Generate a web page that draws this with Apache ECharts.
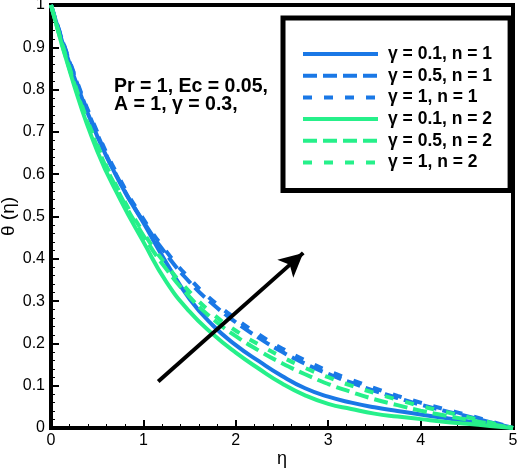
<!DOCTYPE html>
<html>
<head>
<meta charset="utf-8">
<script src="https://cdn.jsdelivr.net/npm/echarts@6/dist/echarts.min.js"></script>
<style>html,body{margin:0;padding:0;background:#fff}#c{width:520px;height:469px}</style>
</head>
<body>
<div id="c"></div>
<script>
var eta = [0,0.25,0.5,0.75,1,1.25,1.5,1.75,2,2.25,2.5,2.75,3,3.25,3.5,3.75,4,4.25,4.5,4.75,5];
var g01n1 = [1,0.83,0.69,0.578,0.485,0.39,0.305,0.243,0.196,0.158,0.123,0.094,0.074,0.060,0.049,0.040,0.032,0.024,0.016,0.008,0];
var g05n1 = [1,0.835,0.695,0.58,0.488,0.41,0.345,0.293,0.25,0.213,0.18,0.152,0.128,0.107,0.088,0.071,0.055,0.041,0.028,0.014,0];
var g1n1  = [1,0.838,0.70,0.586,0.494,0.417,0.353,0.301,0.258,0.221,0.188,0.16,0.135,0.114,0.094,0.076,0.06,0.045,0.031,0.016,0];
var g01n2 = [1,0.81,0.655,0.54,0.44,0.345,0.275,0.222,0.178,0.14,0.105,0.077,0.057,0.045,0.034,0.027,0.021,0.015,0.010,0.005,0];
var g05n2 = [1,0.815,0.665,0.55,0.455,0.375,0.31,0.258,0.217,0.183,0.153,0.127,0.104,0.085,0.068,0.054,0.041,0.030,0.020,0.010,0];
var g1n2  = [1,0.818,0.67,0.555,0.462,0.385,0.322,0.27,0.23,0.197,0.168,0.142,0.12,0.1,0.083,0.067,0.052,0.039,0.026,0.013,0];
var names = ['\u03b3 = 0.1, n = 1','\u03b3 = 0.5, n = 1','\u03b3 = 1, n = 1','\u03b3 = 0.1, n = 2','\u03b3 = 0.5, n = 2','\u03b3 = 1, n = 2'];
var arrowTail = [1.16, 0.11];
var arrowHead = [2.73, 0.414];

var BLUE = '#1a78e6', GREEN = '#26f08a';
var FONT = 'Liberation Sans, Arial, Helvetica, sans-serif';
function pairs(ys){ return eta.map(function(x,i){ return [x, ys[i]]; }); }
function mk(name, ys, color, type){
  return {name:name, type:'line', data:pairs(ys), smooth:true, symbol:'none', showSymbol:false,
    lineStyle:{color:color, width:4, type:type}, itemStyle:{color:color}, emphasis:{disabled:true}, z:2};
}
var series = [
  mk(names[0], g01n1, BLUE, 'solid'),
  mk(names[1], g05n1, BLUE, [14,6]),
  mk(names[2], g1n1, BLUE, [9,12]),
  mk(names[3], g01n2, GREEN, 'solid'),
  mk(names[4], g05n2, GREEN, [14,6]),
  mk(names[5], g1n2, GREEN, [9,12]),
  {type:'line', data:[], silent:true, z:5,
   markLine:{silent:true, symbol:['none','arrow'], symbolSize:[18,24], animation:false,
     label:{show:false}, emphasis:{disabled:true},
     lineStyle:{color:'#000', width:4, type:'solid'},
     data:[[{coord:arrowTail},{coord:arrowHead}]]}}
];
var chart = echarts.init(document.getElementById('c'), null, {renderer:'canvas'});
chart.setOption({
  animation:false,
  backgroundColor:'#fff',
  grid:{left:51, right:7, top:5, bottom:41, show:true, borderColor:'#000', borderWidth:4, containLabel:false, outerBoundsMode:'none'},
  xAxis:{type:'value', min:0, max:5, interval:1, name:'\u03b7', nameLocation:'middle', nameGap:22, nameMoveOverlap:false,
    nameTextStyle:{fontFamily:FONT, fontSize:18, color:'#000'},
    axisLine:{show:true, lineStyle:{color:'#000', width:4}},
    axisTick:{show:true, inside:true, length:8, lineStyle:{color:'#000', width:2}},
    minorTick:{show:true, splitNumber:5, length:4, lineStyle:{color:'#000', width:1}},
    splitLine:{show:false},
    axisLabel:{fontFamily:FONT, fontSize:16, color:'#000', margin:5}},
  yAxis:{type:'value', min:0, max:1, interval:0.1, name:'\u03b8 (\u03b7)', nameLocation:'middle', nameGap:33, nameRotate:90, nameMoveOverlap:false,
    nameTextStyle:{fontFamily:FONT, fontSize:19, color:'#000'},
    axisLine:{show:true, lineStyle:{color:'#000', width:4}},
    axisTick:{show:true, inside:true, length:8, lineStyle:{color:'#000', width:2}},
    minorTick:{show:true, splitNumber:5, length:4, lineStyle:{color:'#000', width:1}},
    splitLine:{show:false},
    axisLabel:{fontFamily:FONT, fontSize:16, color:'#000', margin:6}},
  legend:{data:names, orient:'vertical', left:283, top:18, itemWidth:75, itemHeight:16, itemGap:3.7,
    padding:[27,18,19,18], borderColor:'#000', borderWidth:5, backgroundColor:'#fff', selectedMode:false,
    itemStyle:{opacity:0}, lineStyle:{width:4},
    textStyle:{fontFamily:FONT, fontSize:17.5, lineHeight:16, fontWeight:'bold', color:'#000', padding:[0,0,0,5]}},
  graphic:[{type:'text', left:114, top:77, silent:true,
    style:{text:'Pr = 1, Ec = 0.05,\nA = 1, \u03b3 = 0.3,', fontFamily:FONT, fontSize:19.5, fontWeight:'bold', fill:'#000', lineHeight:17.5}}],
  series:series
});
</script>
</body>
</html>
